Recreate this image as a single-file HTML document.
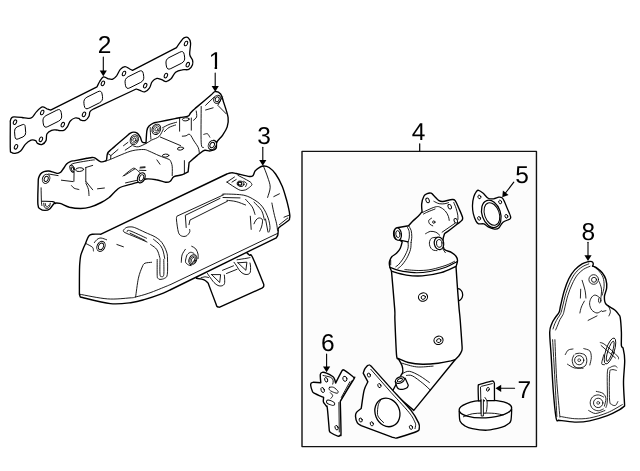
<!DOCTYPE html>
<html><head><meta charset="utf-8"><title>Exhaust manifold diagram</title>
<style>
html,body{margin:0;padding:0;background:#fff;}
body{width:640px;height:471px;overflow:hidden;font-family:"Liberation Sans",sans-serif;}
svg{display:block;filter:grayscale(1);}
svg path,svg ellipse,svg rect{stroke-linecap:round;stroke-linejoin:round;}
svg text{font-family:"Liberation Sans",sans-serif;fill:#000;stroke:none;text-rendering:geometricPrecision;}
</style></head><body>
<svg width="640" height="471" viewBox="0 0 640 471" fill="none" stroke="#000">
<rect x="302" y="151.4" width="234.45" height="295.2" stroke-width="1.4" fill="#fcfcfc" stroke="#111"/>
<path d="M419.7 143.8L419.7 151" stroke-width="1.2" fill="none"/>
<text x="215.6" y="68.7" font-size="24.5" text-anchor="middle">1</text>
<rect x="208" y="66.2" width="6.6" height="4" fill="#fff" stroke="none"/><rect x="217.1" y="66.2" width="6" height="4" fill="#fff" stroke="none"/>
<text x="104.5" y="53.4" font-size="24.5" text-anchor="middle">2</text>
<text x="264.1" y="144.4" font-size="24.5" text-anchor="middle">3</text>
<text x="418.6" y="140.3" font-size="24.5" text-anchor="middle">4</text>
<text x="522" y="182.6" font-size="24.5" text-anchor="middle">5</text>
<text x="327.9" y="350.6" font-size="24.5" text-anchor="middle">6</text>
<text x="524.2" y="397.6" font-size="24.5" text-anchor="middle">7</text>
<text x="588.3" y="240" font-size="24.5" text-anchor="middle">8</text>
<path d="M215.2 73.1L215.2 87" stroke-width="1.1"/>
<path d="M215.2 91.7L211.6 86L218.8 86Z" fill="#000" stroke="none"/>
<path d="M103.3 57.1L103.3 71.5" stroke-width="1.1"/>
<path d="M103.3 76.2L99.7 70.5L106.9 70.5Z" fill="#000" stroke="none"/>
<path d="M262.8 147.2L262.8 161" stroke-width="1.1"/>
<path d="M262.8 165.7L259.2 160L266.4 160Z" fill="#000" stroke="none"/>
<path d="M513.8 182.2L505.1 193.5" stroke-width="1.1"/>
<path d="M502.3 197.2L502.9 190.5L508.6 194.9Z" fill="#000" stroke="none"/>
<path d="M326.6 354.1L326.6 367.6" stroke-width="1.1"/>
<path d="M326.6 372.3L323 366.6L330.2 366.6Z" fill="#000" stroke="none"/>
<path d="M514.6 388.3L500.2 388.3" stroke-width="1.1"/>
<path d="M495.5 388.3L501.2 384.7L501.2 391.9Z" fill="#000" stroke="none"/>
<path d="M588 242.3L588 256.2" stroke-width="1.1"/>
<path d="M588 260.9L584.4 255.2L591.6 255.2Z" fill="#000" stroke="none"/>
<path d="M50.6 110.2L97 86.8C97.5 85.9 98.6 83.2 99.7 81.5C100.8 79.8 102 77.4 103.4 76.9C104.8 76.4 106.5 78.4 108.1 78.8C109.7 79.1 111.4 79.6 112.8 79.1C114.2 78.6 115.3 77.5 116.6 75.9C117.8 74.3 118.9 71 120.3 69.4C121.7 67.9 123.4 66.7 125 66.6C126.6 66.5 128.4 68.4 129.7 69C130.9 69.6 132 70.1 132.5 70.3L176.5 47.6C177.1 46.7 179.1 43.8 180.3 42.2C181.6 40.6 182.7 38.6 184 37.9C185.3 37.2 187.3 37 188.4 37.9C189.5 38.8 190.4 40.4 190.6 43.1C190.8 45.9 189.4 51.6 189.7 54.4C190 57.2 192 58.3 192.5 60C193 61.7 193.1 63.1 192.5 64.7C191.9 66.3 190.5 68.6 188.8 69.4C187 70.2 184.4 69.3 182.2 69.8C180 70.2 177.5 70.7 175.6 72.2C173.7 73.7 172.6 77.2 171 78.8C169.4 80.3 167.8 81.4 166.2 81.6C164.7 81.8 163.2 80.2 161.6 79.7C160 79.2 158.5 78.1 156.9 78.4C155.3 78.7 153.4 80 152.2 81.6C150.9 83.2 150.7 86.4 149.4 88.1C148.2 89.8 146.3 91.5 144.7 91.9C143.1 92.3 141.4 90.9 140 90.4C138.6 89.9 136.9 89.2 136.2 89L93.8 108.8C93.1 109.2 90.8 110.3 90 111.6C89.2 112.8 89.8 114.8 89 116.2C88.2 117.7 86.7 119.8 85.3 120.4C83.9 121 81.7 120.3 80.6 120C79.5 119.7 79.7 118.7 78.8 118.4C77.8 118.1 76.4 117.6 75 118C73.6 118.4 71.5 119.6 70.3 121C69 122.4 68.6 125 67.5 126.6C66.4 128.2 65.2 129.7 63.8 130.3C62.3 131 60.2 130.6 59 130.5C57.8 130.4 57.5 130 56.2 130C55 130 53.2 129.6 51.6 130.3C50 131 47.8 132.3 46.9 134C46 135.7 46.8 138.9 46 140.6C45.2 142.3 43.6 143.9 42.2 144.4C40.8 144.9 38.6 144 37.5 143.4C36.4 142.8 36.7 141.1 35.6 140.6C34.5 140.1 32.7 139.6 31 140.2C29.3 140.9 27 142.6 25.3 144.4C23.6 146.2 22.3 149.5 20.6 151C18.9 152.5 16.6 153.2 15 153.4C13.4 153.6 12.1 153 11.3 152.3C10.5 151.6 10.5 153.7 10.3 149C10.1 144.3 10.3 128.7 10.3 124C10.3 119.3 10.1 122 10.3 121C10.5 120 10.9 118.7 11.5 118C12.1 117.3 12.2 116.9 14 116.8C15.8 116.7 19.6 117.2 22 117.5C24.4 117.8 26.5 118.3 28.1 118.3C29.8 118.3 30.5 118.6 31.9 117.5C33.3 116.4 34.9 113.4 36.6 111.6C38.3 109.8 40.5 107.4 42.2 106.9C43.9 106.4 45.5 108.2 46.9 108.8C48.3 109.3 50 110 50.6 110.2Z" stroke-width="1.3" fill="#fff"/>
<path d="M43 121.7Q42.3 117.6 46 115.6L56.8 110.2Q60.5 108.2 61.2 112.4L61.6 115.1Q62.3 119.2 58.6 121.2L47.8 126.6Q44.1 128.6 43.4 124.4Z" stroke-width="1.0" fill="none"/>
<path d="M83.9 103.3Q83.2 99.2 86.9 97.2L97.7 91.8Q101.4 89.8 102.1 94L102.5 96.7Q103.2 100.8 99.5 102.8L88.7 108.2Q85 110.2 84.3 106Z" stroke-width="1.0" fill="none"/>
<path d="M125.1 82.9Q124.4 78.8 128.1 76.8L138.9 71.4Q142.6 69.4 143.3 73.6L143.7 76.3Q144.4 80.4 140.7 82.4L129.9 87.8Q126.2 89.8 125.5 85.6Z" stroke-width="1.0" fill="none"/>
<path d="M166 63.7Q165.3 59.5 169 57.6L179.8 52.2Q183.5 50.2 184.2 54.4L184.6 57.1Q185.3 61.2 181.6 63.2L170.8 68.6Q167.1 70.5 166.4 66.4Z" stroke-width="1.0" fill="none"/>
<path d="M14.5 131.4Q14.2 128.2 17.1 126.9L22.1 124.8Q25 123.5 25.2 126.7L25.7 132.4Q25.9 135.6 23 136.9L18.2 138.9Q15.3 140.2 15 137Z" stroke-width="1.0" fill="none"/>
<ellipse cx="15" cy="122.2" rx="1.5" ry="2.4" stroke-width="1.0" fill="#fff" transform="rotate(25 15 122.2)"/>
<ellipse cx="16" cy="146.8" rx="1.5" ry="2.4" stroke-width="1.0" fill="#fff" transform="rotate(25 16 146.8)"/>
<ellipse cx="42.2" cy="112.5" rx="1.5" ry="2.4" stroke-width="1.0" fill="#fff" transform="rotate(25 42.2 112.5)"/>
<ellipse cx="40.9" cy="139.3" rx="1.5" ry="2.4" stroke-width="1.0" fill="#fff" transform="rotate(25 40.9 139.3)"/>
<ellipse cx="62.8" cy="124.7" rx="1.5" ry="2.4" stroke-width="1.0" fill="#fff" transform="rotate(25 62.8 124.7)"/>
<ellipse cx="84" cy="114.4" rx="1.5" ry="2.4" stroke-width="1.0" fill="#fff" transform="rotate(25 84 114.4)"/>
<ellipse cx="102.9" cy="83.4" rx="1.5" ry="2.4" stroke-width="1.0" fill="#fff" transform="rotate(25 102.9 83.4)"/>
<ellipse cx="124" cy="73.5" rx="1.5" ry="2.4" stroke-width="1.0" fill="#fff" transform="rotate(25 124 73.5)"/>
<ellipse cx="145.2" cy="85.7" rx="1.5" ry="2.4" stroke-width="1.0" fill="#fff" transform="rotate(25 145.2 85.7)"/>
<ellipse cx="165.9" cy="75.6" rx="1.5" ry="2.4" stroke-width="1.0" fill="#fff" transform="rotate(25 165.9 75.6)"/>
<ellipse cx="186" cy="43.5" rx="1.5" ry="2.4" stroke-width="1.0" fill="#fff" transform="rotate(25 186 43.5)"/>
<ellipse cx="187.8" cy="64.7" rx="1.5" ry="2.4" stroke-width="1.0" fill="#fff" transform="rotate(25 187.8 64.7)"/>
<path d="M106.6 159.7C106.8 158.7 106.9 155.1 107.5 153.5C108.1 151.9 109.2 151.4 110.3 150.3C111.4 149.2 111.4 149.3 114 147.1C116.6 144.8 123.3 139.1 126 136.8C128.7 134.5 128.7 134.2 130 133.4C131.3 132.6 132.5 132.1 133.8 132.1C135 132.1 136.4 132.6 137.5 133.4C138.6 134.2 139.5 135.8 140.3 137.2C141.1 138.6 141.2 141 142.2 141.9C143.1 142.8 145.4 142.7 146 142.8C146.2 140.8 146.4 133.4 146.9 130.6C147.4 127.8 148 127.2 149.1 126C150.2 124.8 151.8 123.8 153.4 123.1C155.1 122.4 155.4 122.7 159 121.9C162.6 121.2 171.4 119.3 175 118.6C178.6 117.9 178.4 117.9 180.6 117.5C182.8 117.1 186.4 117 188.1 116.2C189.8 115.5 189.6 114 190.5 113C191.4 112 192.3 111 193.4 110C194.5 109 194.1 109.4 197 106.9C199.9 104.4 208 97.5 211 95C214 92.5 213.4 91.8 215 91.6C216.6 91.4 219.2 92.3 220.6 94C222 95.7 222.2 97.7 223.4 101.6C224.7 105.5 227.5 113.3 228.1 117.5C228.7 121.7 228.1 123.9 227.2 126.9C226.3 129.9 224.2 132.8 222.5 135.3C220.8 137.8 218 139.7 216.9 141.9C215.8 144.1 217.1 146.9 216 148.4C214.9 149.9 212.2 150.6 210.3 150.9C208.4 151.2 206.6 149.8 204.7 150.3C202.8 150.8 200.6 152.8 199 154C197.4 155.2 196.7 156 195 157.4C193.3 158.8 190.1 161.7 189.1 162.5L188.1 171.9C187.2 172.4 184.8 173.9 182.5 174.7C180.2 175.5 176 175.5 174 176.6C172 177.7 171.7 180.3 170.3 181.2C168.9 182.2 167.9 182.4 165.6 182.2C163.3 181.9 159.5 180.3 156.2 179.8C153 179.2 148.7 178.7 146 179C143.3 179.3 141.6 180.7 140 181.3C138.4 181.9 138.4 182 136.6 182.6C134.8 183.2 132.2 183.9 129.4 184.7C126.6 185.5 122.5 186.2 120 187.5C117.5 188.8 116.3 190.5 114.4 192.2C112.5 193.9 110.9 196.1 108.8 197.8C106.6 199.5 104.4 200.9 101.2 202.5C98.1 204.1 93.4 206.2 90 207.2C86.6 208.2 84 208.5 80.6 208.5C77.2 208.5 72.8 208 69.4 207.2C66 206.3 62.5 204 60 203.4C57.5 202.8 56.1 202.5 54.4 203.4C52.7 204.3 51.3 207.8 49.7 209C48.1 210.2 46.6 210.4 45 210.4C43.4 210.4 41.5 210 40.3 209C39.1 208 38.2 208.7 37.9 204.4C37.5 200.1 38.1 187.4 38.2 183C38.3 178.6 38.2 179.5 38.6 178C39 176.5 39.6 175.1 40.5 174C41.4 172.9 42.6 172.1 44 171.6C45.4 171.1 47.1 170.9 48.8 171C50.4 171.1 52.4 172 54 172.4C55.6 172.8 56.9 173.5 58.1 173.4C59.3 173.3 60.1 172.8 61 172C61.9 171.2 62.6 169.8 63.5 168.5C64.4 167.2 65.5 165.2 66.6 164C67.7 162.8 68.9 162.2 70.3 161.6C71.7 161 72.2 161.1 75 160.6C77.8 160.1 84.2 158.8 87 158.3C89.8 157.8 90.6 157.6 91.9 157.5C93.2 157.4 93.3 157.2 94.7 157.9C96.1 158.6 98.6 161 100.3 161.6C102 162.2 104 161.6 105 161.2C106 160.9 106.3 160 106.6 159.7Z" stroke-width="1.4" fill="#fff"/>
<path d="M41.1 187.8C41.1 190 41.3 198 41.4 201C41.5 204 41.8 204.8 41.9 205.6" stroke-width="0.9" fill="none"/>
<path d="M43.8 203.2C43.9 203.8 43.8 206 44.3 206.9C44.8 207.8 46.1 208.6 47 208.5C47.9 208.4 49.1 207.3 49.6 206.4C50.1 205.5 50.1 203.7 50.2 203.2" stroke-width="0.9" fill="none"/>
<path d="M45.4 203.6C45.5 204 45.6 205.6 45.9 206.2C46.2 206.8 46.9 207.1 47.4 206.9C47.9 206.7 48.6 205.3 48.9 205" stroke-width="0.9" fill="none"/>
<path d="M42.2 201.2C44 201.3 50.6 201.2 52.8 201.6C55 202 55 203.3 55.5 203.6" stroke-width="1.1" fill="none"/>
<ellipse cx="46.1" cy="178.8" rx="3.6" ry="4.7" stroke-width="0.9" fill="#fff" transform="rotate(25 46.1 178.8)"/>
<ellipse cx="46.2" cy="178.9" rx="1.9" ry="2.7" stroke-width="0.9" fill="#fff" transform="rotate(25 46.2 178.9)"/>
<path d="M48.6 174L58.1 175.6" stroke-width="0.9" fill="none"/>
<path d="M69.9 165.9C70.6 165.5 70.4 164.3 74.1 163.3C77.8 162.3 88.8 160.6 92.2 160.1C95.6 159.6 94 160.1 94.3 160.1" stroke-width="0.9" fill="none"/>
<ellipse cx="72.2" cy="168.7" rx="2.1" ry="3.9" stroke-width="0.9" fill="#fff" transform="rotate(-20 72.2 168.7)"/>
<ellipse cx="72.6" cy="169.2" rx="1.1" ry="2.6" stroke-width="0.9" fill="#fff" transform="rotate(-20 72.6 169.2)"/>
<path d="M74.1 170.5L73.9 181.3L85.8 181.3L85.8 168Z" stroke-width="0.01" fill="#fff" stroke="none"/>
<path d="M74.1 171.2L73.9 181.3" stroke-width="0.9" fill="none"/>
<path d="M85.8 167.5L85.8 181.3" stroke-width="0.9" fill="none"/>
<path d="M85.8 181.3L92.7 189.8" stroke-width="0.9" fill="none"/>
<path d="M85.8 183C86.2 184.1 87.9 187.2 88.4 189.3C88.9 191.4 88.9 194.6 89 195.6" stroke-width="0.9" fill="none"/>
<ellipse cx="79.6" cy="169.6" rx="4" ry="1.9" stroke-width="0.9" fill="#fff" transform="rotate(-5 79.6 169.6)"/>
<path d="M85.8 167.5L92.7 165.4" stroke-width="0.9" fill="none"/>
<path d="M61.4 180.2L73 181.6" stroke-width="0.9" fill="none"/>
<path d="M71.5 185.6C71.9 186 72.9 187.5 74.1 188.2C75.3 188.8 78.1 189.3 78.9 189.5" stroke-width="0.9" fill="none"/>
<path d="M97.5 188.8L104.4 188" stroke-width="0.9" fill="none"/>
<path d="M123 176.1C124.4 175 129.5 170.6 131.5 169.3C133.5 168 133.5 167.9 134.9 168.5C136.3 169.1 139.2 172 140 172.7" stroke-width="0.9" fill="none"/>
<path d="M140 168L145 167.6" stroke-width="0.9" fill="none"/>
<path d="M139.5 170.3L145.9 170.5" stroke-width="0.9" fill="none"/>
<path d="M125.5 182.9L136.6 180.4" stroke-width="0.9" fill="none"/>
<ellipse cx="141.3" cy="177.8" rx="3.5" ry="5.3" stroke-width="1.2" fill="#fff" transform="rotate(25 141.3 177.8)"/>
<ellipse cx="141.5" cy="177.8" rx="2" ry="3.3" stroke-width="0.9" fill="#fff" transform="rotate(25 141.5 177.8)"/>
<ellipse cx="134.3" cy="139.7" rx="3.9" ry="5.1" stroke-width="0.9" fill="#fff" transform="rotate(25 134.3 139.7)"/>
<ellipse cx="134.3" cy="139.7" rx="2.8" ry="3.7" stroke-width="0.7" fill="#fff" transform="rotate(25 134.3 139.7)"/>
<ellipse cx="134.4" cy="139.7" rx="1.4" ry="1.9" stroke-width="0.7" fill="#fff" transform="rotate(25 134.4 139.7)"/>
<ellipse cx="156.3" cy="129.3" rx="4.2" ry="5.4" stroke-width="0.9" fill="#fff" transform="rotate(25 156.3 129.3)"/>
<ellipse cx="156.3" cy="129.3" rx="2.9" ry="3.8" stroke-width="0.7" fill="#fff" transform="rotate(25 156.3 129.3)"/>
<ellipse cx="156.4" cy="129.3" rx="1.4" ry="1.9" stroke-width="0.7" fill="#fff" transform="rotate(25 156.4 129.3)"/>
<path d="M107.7 153.4L110.9 155.6L110.6 158.8" stroke-width="0.9" fill="none"/>
<path d="M110.9 155.6L118 149.5" stroke-width="0.9" fill="none"/>
<path d="M123.5 145.7L127.9 142.4" stroke-width="0.9" fill="none"/>
<path d="M125.2 150.1L131.7 145.7" stroke-width="0.9" fill="none"/>
<path d="M106 161C106.7 160.7 107.8 160.5 110.4 159.4C113.1 158.3 118.2 156 121.9 154.5C125.6 153 129.2 151.4 132.8 150.6C136.5 149.8 141.1 149.4 143.8 149.5C146.5 149.6 146.7 150.2 149.2 151.2C151.7 152.2 155.9 154.3 159 155.6C162.1 156.9 166.1 158.2 168 159C169.9 159.8 169.6 159.4 170.3 160.6C171 161.8 171.9 163.8 172.2 166.2C172.5 168.8 172.2 174 172.2 175.6" stroke-width="0.9" fill="none"/>
<path d="M132.8 145.7C133.7 145.9 136.1 147.2 138.3 146.8C140.5 146.4 143.8 144.6 146 143.5C148.2 142.4 149.2 141.4 151.4 140.2C153.6 139 157.1 138.3 159.1 136.4C161.1 134.5 162.8 130 163.5 128.8" stroke-width="0.9" fill="none"/>
<path d="M150.3 127.5C150.3 128.1 150.2 129 150.3 130.9C150.4 132.8 150.8 137.7 150.9 139.1" stroke-width="0.9" fill="none"/>
<path d="M160.2 137L180.6 145.6" stroke-width="0.9" fill="none"/>
<path d="M162.5 127.8C163.6 127.2 166.7 125.4 169 124.5C171.3 123.6 175.3 122.6 176.6 122.2" stroke-width="0.9" fill="none"/>
<path d="M164.4 131.6C165.2 130.9 167.1 128.6 169 127.5C170.9 126.4 174.5 125.4 175.6 125" stroke-width="0.9" fill="none"/>
<ellipse cx="165.6" cy="155.6" rx="3.3" ry="1.5" stroke-width="0.9" fill="#fff" transform="rotate(-5 165.6 155.6)"/>
<ellipse cx="180.5" cy="148.6" rx="3.1" ry="1.5" stroke-width="0.9" fill="#fff" transform="rotate(-8 180.5 148.6)"/>
<path d="M156.9 159.9L160 164.3" stroke-width="0.9" fill="none"/>
<path d="M179.6 118.4L179.6 131.2" stroke-width="0.9" fill="none"/>
<path d="M191.3 118L191.3 130.2" stroke-width="0.9" fill="none"/>
<ellipse cx="185.8" cy="119.3" rx="3.4" ry="1.6" stroke-width="0.9" fill="#fff" transform="rotate(-5 185.8 119.3)"/>
<path d="M182.3 136.2C182.9 136.2 184.8 136.1 186 135.8C187.2 135.5 188.5 133.5 189.8 134.4C191.1 135.3 192.6 138.8 194 141C195.4 143.2 197.4 145.6 198.3 147.7C199.2 149.8 199.2 152.5 199.4 153.5" stroke-width="0.9" fill="none"/>
<path d="M184.4 160.6L184.4 173.8" stroke-width="0.9" fill="none"/>
<path d="M201.2 106.5C201.2 112.5 200.8 136 201.2 142.8C201.6 149.6 203.3 146.7 203.8 147.5" stroke-width="0.9" fill="none"/>
<path d="M196.2 111C196.3 112 197.1 115.5 196.6 117C196.1 118.5 193.9 119.8 193.4 120.3" stroke-width="0.9" fill="none"/>
<ellipse cx="217.2" cy="99.3" rx="3.4" ry="4.2" stroke-width="0.9" fill="#fff" transform="rotate(25 217.2 99.3)"/>
<ellipse cx="217.2" cy="99.3" rx="1.9" ry="2.5" stroke-width="0.9" fill="#fff" transform="rotate(25 217.2 99.3)"/>
<path d="M205.6 105.3L214 97.2" stroke-width="0.9" fill="none"/>
<path d="M205.6 110L213.1 107.8" stroke-width="0.9" fill="none"/>
<path d="M222.5 96.9L217.8 105.3L226.2 113.8" stroke-width="0.9" fill="none"/>
<ellipse cx="212.2" cy="145" rx="3.7" ry="4.9" stroke-width="0.9" fill="#fff" transform="rotate(30 212.2 145)"/>
<ellipse cx="212.2" cy="145" rx="2.1" ry="2.9" stroke-width="0.9" fill="#fff" transform="rotate(30 212.2 145)"/>
<path d="M203.8 134.4C204.4 134.3 206.5 133.3 207.5 133.8C208.5 134.3 209.4 136.6 209.8 137.2" stroke-width="0.9" fill="none"/>
<path d="M214 140L216.9 141.9" stroke-width="0.9" fill="none"/>
<path d="M124.4 175.6C125.3 175 128.3 173.1 130 172C131.7 170.9 133.9 169.5 134.7 169" stroke-width="0.9" fill="none"/>
<path d="M140.3 167.2L145 166.8" stroke-width="0.9" fill="none"/>
<path d="M197 274L196.5 278.4C197.8 278.6 202.2 279 204.1 279.8C206 280.6 207.4 282.5 208.1 283C209.4 286.5 214.5 300.1 216 304C217.5 307.9 216.7 306.1 217.3 306.6C217.9 307.1 219.3 307.1 219.7 307.2L261.9 288.1C262.2 287.9 263.3 287.2 263.6 286.6C263.9 286 263.7 284.8 263.8 284.4C261.9 279.9 254.9 262.1 252.5 257.2C250.1 252.3 250.8 256.2 249.5 255.2C248.2 254.2 245.8 251.7 245 251L197 274Z" stroke-width="1.4" fill="#fff"/>
<path d="M211.6 274.6L220.6 274.6L219.7 282.5L211.6 274.6Z" stroke-width="0.9" fill="none"/>
<path d="M237.9 262.8L246.9 262.2L245.9 270.3L237.9 262.8Z" stroke-width="0.9" fill="none"/>
<path d="M207.5 273.5C207.8 274 208.4 275 209.5 276.5C210.6 278 212.6 281 214 282.5C215.4 284 216.7 284.9 218 285.5C219.3 286.1 220.9 286.1 222 285.8C223.1 285.5 224.1 284.8 224.5 283.5C224.9 282.2 224.6 279.4 224.6 278C224.6 276.6 224.4 275.5 224.3 275" stroke-width="0.9" fill="none"/>
<path d="M234 262.3C234.3 262.8 235 263.6 236 265C237 266.4 238.7 269.5 240 271C241.3 272.5 242.7 273.4 244 274C245.3 274.6 246.9 274.6 248 274.3C249.1 274 249.9 273.4 250.3 272C250.7 270.6 250.6 267.5 250.5 266C250.4 264.5 250.1 263.5 250 263" stroke-width="0.9" fill="none"/>
<path d="M222.5 270.3L233.5 265.8" stroke-width="0.9" fill="none"/>
<path d="M226.5 273.5L237 269.3" stroke-width="0.9" fill="none"/>
<path d="M201 277.8C201.7 277.6 203.8 276.9 205 276.8C206.2 276.8 207.9 277.4 208.5 277.5" stroke-width="0.9" fill="none"/>
<path d="M237 259.8C238.7 259.5 244.8 258.6 247 258.2C249.2 257.8 249.5 257.6 250 257.5" stroke-width="0.9" fill="none"/>
<path d="M101 234.2L226.9 174C227.7 173.8 230 172.8 231.6 172.8C233.2 172.7 233.3 172.9 236.2 173.5C239.2 174.1 246.6 176.2 249.4 176.5C252.2 176.8 252.2 176.3 253.1 175.4C254 174.5 254.1 172.5 255 171.2C255.9 170 257.4 168.8 258.8 167.9C260.1 167 261.7 166.1 263.4 166C265.1 165.9 267.1 166.2 269.1 167.5C271.1 168.8 273.4 170.9 275.6 174C277.8 177.1 280.3 181.7 282.2 186.2C284.1 190.8 285.6 196.6 286.9 201.2C288.1 205.9 289.3 211.4 289.7 214.3C290.1 217.2 289.7 217.4 289.5 218.5C289.3 219.6 290.2 219.1 288.5 220.6C286.8 222.1 280.7 225.9 279 227.6C277.3 229.3 278.4 229.8 278.2 231C278 232.2 278.1 233.9 277.8 235C277.5 236.1 276.6 237.3 276.3 237.8L170 290C168.3 290.7 164.2 292.7 160 294.3C155.8 295.9 149.7 298 145 299.4C140.3 300.8 137.7 301.8 131.9 302.5C126.1 303.2 118.9 304.5 110.3 303.6C101.7 302.7 85.3 298.1 80.3 297L79.4 294.2C79.4 290.2 79.4 275.2 79.5 270C79.6 264.8 79.6 265.6 79.8 263.2C80 260.8 80.2 258 80.7 255.6C81.2 253.2 82.3 251 83.1 248.9C83.9 246.8 84.8 245.2 85.7 243C86.6 240.8 87.6 237.5 88.8 236C89.9 234.5 90.5 234.5 92.5 234.2C94.5 233.9 99.6 234.2 101 234.2Z" stroke-width="1.4" fill="#fff"/>
<path d="M79.6 294.2C84.2 295 99.1 298.3 107.5 298.9C115.9 299.5 125.3 298.2 130 297.9C134.7 297.6 132.5 297.8 135.6 297C138.7 296.2 143.4 295.1 148.8 293.2C154.1 291.4 164 287.2 167.5 285.8C171 284.3 169.6 285 170 284.8L275 234.6L277.5 233.5" stroke-width="0.9" fill="none"/>
<path d="M135.6 297C136.1 293.9 137.3 283.2 138.4 278.2C139.5 273.2 141.1 269.5 142.2 267C143.3 264.5 143.4 264 145 263.2C146.6 262.5 150.5 262.5 151.6 262.3" stroke-width="0.9" fill="none"/>
<path d="M86 243.6C87.1 244.2 91.3 246.1 92.5 247.3C93.7 248.5 93.2 250.4 93.4 251" stroke-width="0.9" fill="none"/>
<ellipse cx="101" cy="246.4" rx="3.9" ry="5.3" stroke-width="0.9" fill="#fff" transform="rotate(25 101 246.4)"/>
<ellipse cx="101" cy="246.4" rx="2.4" ry="3.5" stroke-width="0.9" fill="#fff" transform="rotate(25 101 246.4)"/>
<path d="M94.4 242.6C94.8 242.1 95.9 240.3 97 239.5C98.1 238.7 99.4 237.9 101 238C102.6 238.1 105.7 239.5 106.6 239.8" stroke-width="0.9" fill="none"/>
<path d="M116.9 244.5L123.4 246.8" stroke-width="0.9" fill="none"/>
<path d="M157.2 259.5C157.2 262.1 157.1 272.3 157.2 275.4C157.3 278.5 157.5 277.6 158 278.3C158.5 279 158.9 279.4 160 279.4C161.1 279.4 163.5 279.1 164.7 278.2C165.9 277.4 166.8 277.7 167.3 274.5C167.8 271.3 167.6 262.8 167.5 259C167.4 255.2 167.5 254.7 166.6 252C165.7 249.3 163.8 245.1 161.9 242.6C160 240.1 158.1 238.7 155.3 237C152.5 235.3 148.4 233.9 145 232.3C141.6 230.7 137.2 228.5 134.7 227.6C132.2 226.7 131.4 226.9 130 226.9C128.6 226.9 127.3 227 126.2 227.6C125.2 228.2 123.6 229.6 123.4 230.4C123.2 231.2 123.1 231.5 125 232.6C126.9 233.7 131.3 235.2 135 236.8C138.7 238.4 145 241.1 147 242" stroke-width="0.9" fill="none"/>
<path d="M160 259.5C160 262 159.7 271.6 160 274.5C160.3 277.4 161.3 276.6 161.9 276.6C162.5 276.6 163.4 277.4 163.8 274.5C164.1 271.6 163.8 262 163.8 259.5" stroke-width="0.9" fill="none"/>
<path d="M150.6 244.5C151.4 245.1 154.2 246.8 155.5 248C156.8 249.2 157.3 250.2 158.1 252C158.8 253.8 159.7 257.4 160 258.5" stroke-width="0.9" fill="none"/>
<path d="M153.5 239.3C154.5 240.2 157.9 242.6 159.5 244.4C161.1 246.2 161.9 247.7 162.8 250C163.7 252.3 164.4 257.1 164.7 258.5" stroke-width="0.9" fill="none"/>
<path d="M127.3 232C127.7 231.8 126.3 229.6 129.5 230.6C132.7 231.6 143.7 236.9 146.5 238.2" stroke-width="0.9" fill="none"/>
<path d="M130 233.2L145 240.4" stroke-width="0.9" fill="none"/>
<path d="M193.9 253.4C193.3 253.2 191.7 252.1 190.6 252.3C189.5 252.5 188.1 253.6 187.3 254.5C186.6 255.4 186.4 256.5 186.1 257.8C185.8 259.1 185.2 261.1 185.6 262.3C186 263.5 187.5 264.3 188.4 264.9C189.3 265.4 190.6 265.5 191 265.6" stroke-width="0.9" fill="none"/>
<ellipse cx="192.8" cy="259.7" rx="3.7" ry="5.3" stroke-width="0.9" fill="#fff" transform="rotate(25 192.8 259.7)"/>
<ellipse cx="192.9" cy="259.8" rx="2.7" ry="4.1" stroke-width="0.75" fill="#fff" transform="rotate(25 192.9 259.8)"/>
<ellipse cx="193" cy="259.9" rx="1.5" ry="2.7" stroke-width="0.75" fill="#fff" transform="rotate(25 193 259.9)"/>
<path d="M185.4 249.3C184.8 250.2 182.8 252.7 182.1 254.9C181.4 257.1 181.4 261.1 181.3 262.3" stroke-width="0.9" fill="none"/>
<path d="M191.7 246.3C192.4 246.7 194.8 247.6 195.8 248.9C196.9 250.2 197.6 252.5 198 254.1C198.4 255.7 198 257.9 198 258.6" stroke-width="0.9" fill="none"/>
<path d="M223.8 194.7L176.9 216.2C176.8 216.9 176.2 217.3 176.5 220C176.8 222.7 177.6 229.5 178.4 232.2C179.2 234.9 180.3 235.4 181.6 236C182.9 236.6 184.9 236.6 186.2 236C187.6 235.4 189 233.3 189.6 232.2C190.2 231.1 189.6 229.9 189.6 229.4" stroke-width="0.9" fill="none"/>
<path d="M220 198.4L185.3 215.3L186.2 227.5" stroke-width="0.9" fill="none"/>
<path d="M227.5 201.2L190 220L189 224.7" stroke-width="0.9" fill="none"/>
<path d="M222.2 194.7C222.7 194.6 221.4 193.9 225 194C228.6 194.1 238.8 194.2 243.8 195.2C248.8 196.3 251.9 198.4 255 200.3C258.1 202.2 260.3 204 262.5 206.9C264.7 209.8 266.9 214.6 268.1 218C269.4 221.4 269.9 225.2 270 227.5C270.1 229.8 269.2 231.2 269 232" stroke-width="0.9" fill="none"/>
<path d="M223 197.5L240 197.9" stroke-width="0.9" fill="none"/>
<path d="M226.9 200.3C228.5 200.5 233.1 200.8 236.2 201.6C239.4 202.4 244 204.4 245.6 205" stroke-width="0.9" fill="none"/>
<path d="M245.6 199.4C246.7 200.7 250.6 204.4 252.2 206.9C253.8 209.4 254.5 213.2 255 214.4" stroke-width="0.9" fill="none"/>
<path d="M254 202.2C255.3 203.6 259.9 207.6 261.6 210.6C263.3 213.6 263.9 218.4 264.4 220" stroke-width="0.9" fill="none"/>
<path d="M250.3 216.2L251.2 229.4" stroke-width="0.9" fill="none"/>
<path d="M254 223.8C254.3 223.1 255.2 221 256 220C256.8 219 257.8 218.2 258.8 218C259.8 217.8 261.4 218.3 262 219C262.6 219.7 262.6 220.6 262.5 221.9C262.4 223.2 262 225.4 261.5 227C261 228.6 260 230.5 259.7 231.2" stroke-width="0.9" fill="none"/>
<path d="M265.5 219L268 232" stroke-width="0.9" fill="none"/>
<path d="M263.4 166C264.1 167.8 266.5 173.5 267.6 177C268.7 180.5 270.2 183.8 270.2 187.2C270.2 190.6 268 195.7 267.6 197.4" stroke-width="0.9" fill="none"/>
<path d="M273.8 196.6L279.4 193.8" stroke-width="0.9" fill="none"/>
<path d="M271.9 203C272.2 204.6 273 209 273.8 212.5C274.5 216 276 220.8 276.6 223.8C277.2 226.7 277.4 229.2 277.5 230.3" stroke-width="0.9" fill="none"/>
<path d="M284 217.2L288.8 215.3" stroke-width="0.9" fill="none"/>
<path d="M279.4 224.7L287.8 218" stroke-width="0.9" fill="none"/>
<path d="M237.9 175.3C239.8 176.3 246.7 179.8 249 181.2C251.3 182.6 251.1 182.8 251.5 183.5C251.9 184.2 252.2 184.6 251.5 185.5C250.8 186.4 248.6 188.1 247.3 188.9C246.1 189.7 245.4 190.1 244 190.2C242.6 190.3 241.7 191 238.8 189.7C236 188.3 228.9 183.4 226.9 182.1" stroke-width="0.9" fill="none"/>
<path d="M226.9 182.1L234.5 177" stroke-width="0.9" fill="none"/>
<path d="M232 182.1L236.2 179.5" stroke-width="0.9" fill="none"/>
<ellipse cx="240.5" cy="183.8" rx="3.5" ry="2.7" stroke-width="0.9" fill="#fff" transform="rotate(15 240.5 183.8)"/>
<ellipse cx="240" cy="183.6" rx="1.9" ry="1.5" stroke-width="1.2" fill="#fff" transform="rotate(15 240 183.6)"/>
<path d="M243.5 181.3C244 181.7 246.4 182.6 246.7 183.5C247 184.4 245.7 186.2 245.5 186.7" stroke-width="0.9" fill="none"/>
<path d="M398.1 358.5C398.8 359.7 401.2 363.4 402 365.6C402.8 367.8 402.9 370.3 402.8 371.9C402.7 373.5 401.5 374.5 401.2 375L392 392L413.8 410.4L455.5 359.3L398.1 358.5Z" stroke-width="1.4" fill="#fff"/>
<path d="M402.6 373.6C403.7 373.2 406.5 370.9 409.3 371.3C412.1 371.7 416.4 373.9 419.7 375.8C423 377.7 427.8 381.4 429.4 382.5" stroke-width="0.9" fill="none"/>
<path d="M406.5 375.5C407.5 375.6 409.6 374.5 412.3 375.8C415 377.1 419.7 380.9 422.7 383.2C425.7 385.5 428.9 388.8 430.1 389.9" stroke-width="0.9" fill="none"/>
<path d="M395.2 381.5C395.6 382.5 396.5 386.3 397.3 387.6C398.1 388.9 398.9 389 400 389.3C401.1 389.6 402.4 389.4 403.6 389.2C404.8 388.9 406.2 388.4 407 387.8C407.8 387.2 408.1 385.7 408.3 385.3L405.2 378.2L395.2 381.5Z" stroke-width="1.2" fill="#fff"/>
<ellipse cx="399.9" cy="380.1" rx="4.7" ry="3" stroke-width="1.2" fill="#fff" transform="rotate(-25 399.9 380.1)"/>
<ellipse cx="399.9" cy="380.1" rx="2.7" ry="1.4" stroke-width="0.9" fill="#fff" transform="rotate(-25 399.9 380.1)"/>
<path d="M363.2 373.2L367.9 381.8C367.3 383.2 365.2 385.9 364.1 390.4C363 394.8 361.7 405.5 361.2 408.5C360.5 409.1 357.5 411.1 356.5 412.4C355.5 413.7 355.4 414.4 355.5 416.2C355.6 417.9 356.4 421.3 357.4 422.9C358.4 424.5 360.6 425.2 361.2 425.7L392 437.2C392.5 437.3 393.9 437.8 395 437.9C396.1 437.9 394.9 438.6 398.5 437.5C402.1 436.4 413.2 433 416.7 431.5C420.1 430 418.9 430 419.2 428.6C419.5 427.2 420 425.9 418.6 422.9C417.2 419.9 415.3 415.8 411 410.4C406.7 405 395.8 393.7 392.8 390.4L371.8 366.9C371.3 366.6 370 364.6 368.9 364.9C367.8 365.1 366.1 367 365.1 368.4C364.2 369.8 363.5 372.4 363.2 373.2Z" stroke-width="1.4" fill="#fff"/>
<path d="M370.8 369.3L390.9 392.3C393.9 395.6 405 407.5 409 412.4C413 417.3 413.7 419.7 414.8 421.9C415.9 424.1 415.6 424.4 415.6 425.5C415.6 426.6 415.1 428.1 415 428.6" stroke-width="0.9" fill="none"/>
<ellipse cx="387.4" cy="412.4" rx="12.2" ry="14.6" stroke-width="1.3" fill="#fff" transform="rotate(-22 387.4 412.4)"/>
<path d="M380.5 400.5C380.1 401.2 378.8 402.5 378.3 404.8C377.8 407.1 377.2 411.9 377.5 414.3C377.8 416.7 379 417.6 380 419C381 420.4 383 421.9 383.6 422.5" stroke-width="0.9" fill="none"/>
<ellipse cx="368.9" cy="375.1" rx="1.5" ry="2.1" stroke-width="0.9" fill="#fff" transform="rotate(-20 368.9 375.1)"/>
<ellipse cx="379.4" cy="385.6" rx="1.5" ry="2.1" stroke-width="0.9" fill="#fff" transform="rotate(-20 379.4 385.6)"/>
<ellipse cx="360.7" cy="420" rx="1.5" ry="2.1" stroke-width="0.9" fill="#fff" transform="rotate(-20 360.7 420)"/>
<ellipse cx="371.8" cy="423.8" rx="1.5" ry="2.1" stroke-width="0.9" fill="#fff" transform="rotate(-20 371.8 423.8)"/>
<ellipse cx="411" cy="427.3" rx="1.5" ry="2.1" stroke-width="0.9" fill="#fff" transform="rotate(-20 411 427.3)"/>
<path d="M457.5 288.5C457.9 288.6 459.1 288.6 459.9 289.2C460.7 289.8 461.9 291.1 462.3 292.4C462.7 293.7 462.7 295.8 462.3 297.1C461.9 298.4 460.5 299.8 459.9 300.3C459.2 300.9 458.6 300.4 458.4 300.4" stroke-width="1.3" fill="#fff"/>
<path d="M391.5 271.2C392 277.5 394.1 300.8 394.7 308.9C395.3 317 394.6 312.4 394.9 320C395.2 327.6 396 348.2 396.5 354.6C397 361 397.8 357.9 398.1 358.5C399.8 359.2 404.2 361.5 408.3 362.5C412.4 363.5 417.5 364.2 422.5 364.3C427.5 364.4 433.5 363.8 438.2 363.2C442.9 362.6 447.9 361.5 450.8 360.9C453.7 360.2 454.7 359.6 455.5 359.3C456 358.8 457.6 357.6 458.6 356.2C459.7 354.8 461.2 352.3 461.8 350.7C462.4 349.1 462.1 347.4 462.1 346.7C461.8 342.2 460.7 326.3 460.2 320C459.7 313.7 459.6 314.1 459.1 308.9C458.7 303.6 458 295.6 457.5 288.5C457 281.4 456.2 270.1 456 266.4L391.5 271.2Z" stroke-width="1.4" fill="#fff"/>
<path d="M401.9 363.2C404.4 363.8 411.5 366.4 416.7 366.9C421.9 367.4 430.4 366.2 433.1 366.1" stroke-width="0.9" fill="none"/>
<ellipse cx="423" cy="297.1" rx="4.6" ry="4.1" stroke-width="1.1" fill="#fff" transform="rotate(-20 423 297.1)"/>
<ellipse cx="423.3" cy="297.4" rx="2.2" ry="1.9" stroke-width="0.9" fill="#fff" transform="rotate(-20 423.3 297.4)"/>
<ellipse cx="438.5" cy="340.3" rx="4.6" ry="4.1" stroke-width="1.1" fill="#fff" transform="rotate(-20 438.5 340.3)"/>
<ellipse cx="438.8" cy="340.6" rx="2.2" ry="1.9" stroke-width="0.9" fill="#fff" transform="rotate(-20 438.8 340.6)"/>
<path d="M391.5 271.2C391.2 270.5 390.3 268.5 389.9 267.2C389.5 265.9 389.3 264.4 389.3 263.3C389.3 262.2 389.4 261.6 389.8 260.5C390.2 259.4 390.9 257.7 392 256.5C393.1 255.3 395.1 254.7 396.5 253.3C397.9 251.9 399.4 250.1 400.3 248.2C401.2 246.3 401.9 242.9 402.2 241.8C401.7 241.5 400.1 240.3 399 239.9C397.9 239.5 396.6 239.8 395.7 239.2C394.8 238.5 394.2 237.4 393.9 236C393.6 234.6 393.6 232.3 394 231C394.4 229.7 395.5 228.7 396 228.2C396.5 227.7 396.9 227.9 397.1 227.8L408.6 225.8C409.2 225.1 410.8 223 412.4 221.4C414 219.8 416.6 217.9 418.2 216.3C419.8 214.7 421.5 212.5 422.1 211.7C422 210.4 421.4 206.5 421.7 203.9C422 201.3 423.1 197.7 424 196C424.9 194.3 426 194.1 427.2 193.6C428.4 193.1 429.9 192.8 431.1 193.2C432.3 193.6 432.9 194.8 434.2 196C435.5 197.2 437.6 199.8 439 200.7C440.4 201.6 440.7 201.7 442.9 201.5C445.1 201.3 450.2 199.6 452.3 199.5C454.4 199.4 454.1 199.3 455.2 200.7C456.2 202.1 457.4 205.1 458.6 207.8C459.8 210.6 462 215.1 462.5 217.2C463 219.3 462.7 219.2 461.8 220.4C460.9 221.6 459 222.7 457 224.3C455 225.9 452.1 228.2 450 229.8C447.9 231.4 445.4 233 444.5 233.7C444.2 234.8 443.1 237.4 443 240C442.9 242.6 442.8 247.1 444.2 249.2C445.6 251.2 449.3 251.1 451.3 252.3C453.3 253.5 455 254.9 456 256.2C457 257.5 457.4 258.9 457.5 260.2C457.6 261.5 457.1 263.1 456.8 264.1C456.6 265.1 456.1 266 456 266.4C453.5 267.4 446.6 271.1 441 272.7C435.4 274.3 428 275.5 422.2 275.9C416.4 276.3 411.5 275.9 406.4 275.1C401.3 274.3 394 271.9 391.5 271.2Z" stroke-width="1.4" fill="#fff"/>
<path d="M389.9 267.2C391.3 267.7 394.5 269.5 398.6 270.4C402.7 271.3 409.1 272.5 414.3 272.7C419.5 272.9 424.8 272.4 430 271.5C435.2 270.6 441.3 268.8 445.8 267.2C450.3 265.6 455 262.6 456.8 261.7" stroke-width="1.2" fill="none"/>
<path d="M404.9 269.6C407.4 269.8 415.5 270.6 420 270.5C424.5 270.4 427.7 270.2 432 269.3C436.3 268.4 442.2 266.6 446 265.3C449.8 264 453.1 262 454.5 261.3" stroke-width="0.9" fill="none"/>
<path d="M408 241.8C408 242.9 408.6 245.6 408 248.2C407.4 250.8 405.6 254.5 404.1 257.1C402.6 259.8 400.4 262.5 399 264.1C397.6 265.7 396.3 266.3 395.8 266.7" stroke-width="0.9" fill="none"/>
<path d="M411.1 242.4C411 243.6 411.2 246.7 410.5 249.4C409.8 252.1 408.2 255.7 406.7 258.4C405.2 261.1 403.1 263.7 401.6 265.4C400.1 267.1 398.4 268.1 397.8 268.6" stroke-width="0.9" fill="none"/>
<path d="M390.7 260.2L390.7 264.9" stroke-width="0.9" fill="none"/>
<path d="M408.6 225.8C409 226.6 410.6 228.5 411.1 230.3C411.6 232.1 411.8 234.7 411.8 236.7C411.8 238.7 411.2 241.4 411.1 242.4" stroke-width="0.9" fill="none"/>
<path d="M407.3 227.1C407.6 227.8 408.9 229.8 409.2 231.6C409.5 233.4 409.4 236.3 409.2 238C409 239.7 408.2 241.2 408 241.8" stroke-width="0.9" fill="none"/>
<path d="M399 239.9L408 241.8" stroke-width="1.2" fill="none"/>
<ellipse cx="397.8" cy="234.1" rx="3.6" ry="6.2" stroke-width="1.2" fill="#fff" transform="rotate(-8 397.8 234.1)"/>
<ellipse cx="397.9" cy="234.1" rx="2.1" ry="3.5" stroke-width="0.9" fill="#fff" transform="rotate(-8 397.9 234.1)"/>
<path d="M422.5 212.5C423.3 212.1 425.1 211.1 427.2 210.2C429.3 209.3 432.9 207.5 435 207C437.1 206.5 438 206.3 439.7 207C441.4 207.7 443.9 209.4 445.3 211C446.8 212.6 447.8 214.8 448.4 216.4C449 218 449.1 219.7 449.2 220.4" stroke-width="0.9" fill="none"/>
<path d="M423.5 214C424.2 213.6 426.1 212.6 428 211.8C429.9 211 433.8 209.5 435 209" stroke-width="0.9" fill="none"/>
<path d="M442.1 232.2L454.7 223.5" stroke-width="0.9" fill="none"/>
<ellipse cx="427.6" cy="200.4" rx="1.6" ry="2.4" stroke-width="0.9" fill="#fff" transform="rotate(-25 427.6 200.4)"/>
<ellipse cx="449.7" cy="206.7" rx="1.6" ry="2.4" stroke-width="0.9" fill="#fff" transform="rotate(-25 449.7 206.7)"/>
<ellipse cx="455.8" cy="220.8" rx="1.6" ry="2.4" stroke-width="0.9" fill="#fff" transform="rotate(-25 455.8 220.8)"/>
<path d="M431.6 218.2C431.1 218.6 429 219.6 428.7 220.6C428.4 221.6 429.1 223.2 429.8 224.1C430.5 225 432.3 225.5 432.8 225.8" stroke-width="0.9" fill="none"/>
<path d="M433.9 201.3C434.8 201.7 437.3 203.3 439.2 203.7C441.1 204.1 443.4 203.9 445 203.7C446.6 203.5 447.9 202.8 448.5 202.6" stroke-width="0.9" fill="none"/>
<path d="M453.8 202.5C454.1 203.5 455.4 206.2 456.1 208.3C456.8 210.4 457.5 213.4 457.8 215.3C458.1 217.2 457.9 218.8 457.9 219.5" stroke-width="0.9" fill="none"/>
<ellipse cx="433.8" cy="222.1" rx="1.2" ry="1.2" stroke-width="0.9" fill="#fff"/>
<path d="M425.6 233.7C426.4 233.3 428.6 231.7 430.3 231.4C432 231.2 434.2 231.5 435.8 232.2C437.4 232.8 439.1 234.8 439.7 235.3" stroke-width="0.9" fill="none"/>
<path d="M436 237.3C435.2 237.5 432.6 237.5 431.5 238.2C430.4 238.9 429.9 240.4 429.6 241.5C429.3 242.6 429.3 243.6 429.5 244.7C429.7 245.8 430.3 247.4 431 248.3C431.7 249.2 432.5 249.8 433.5 250.2C434.5 250.6 436.4 250.5 437 250.6" stroke-width="0.9" fill="none"/>
<ellipse cx="439" cy="243.4" rx="4.7" ry="6.3" stroke-width="1.2" fill="#fff" transform="rotate(-10 439 243.4)"/>
<ellipse cx="439.3" cy="243.4" rx="2.8" ry="3.9" stroke-width="0.9" fill="#fff" transform="rotate(-10 439.3 243.4)"/>
<path d="M442.9 249L445.3 252.6" stroke-width="0.9" fill="none"/>
<path d="M478.6 190.3C477.5 190 477.3 190.3 476.5 191.4C475.7 192.5 474.5 194.4 473.8 196.7C473.1 199 472.6 202.4 472.5 205.2C472.4 208 472.7 211 473.3 213.7C473.9 216.3 475.1 219.4 476 221.1C476.9 222.8 477.3 223.3 478.6 223.8C479.9 224.2 482.3 223.4 483.9 223.9C485.5 224.4 486.4 226 488.2 226.9C490 227.8 492.7 228.9 494.5 229.1C496.3 229.3 497.4 229.2 498.8 228C500.2 226.8 501.1 223.7 503 222.2C504.9 220.7 508.6 220 509.9 219C511.1 218 510.9 218.1 510.5 216.3C510.1 214.5 508.4 211 507.3 208.4C506.2 205.8 505 202.7 504.1 200.9C503.2 199.1 502.9 198.3 502 197.7C501.1 197.1 500.2 197 498.8 197.2C497.4 197.4 495.3 198.6 493.5 198.8C491.7 199 490 199.3 488.2 198.3C486.4 197.3 484.5 194.3 482.9 193C481.3 191.7 479.7 190.6 478.6 190.3Z" stroke-width="1.3" fill="#fff"/>
<ellipse cx="491.3" cy="213.9" rx="9.2" ry="14.1" stroke-width="1.3" fill="#fff" transform="rotate(-19 491.3 213.9)"/>
<ellipse cx="491.9" cy="214" rx="7.3" ry="11.7" stroke-width="1.0" fill="#fff" transform="rotate(-19 491.9 214)"/>
<ellipse cx="479.4" cy="196.9" rx="1.4" ry="1.9" stroke-width="0.9" fill="#fff" transform="rotate(-20 479.4 196.9)"/>
<ellipse cx="500.2" cy="202" rx="1.4" ry="1.9" stroke-width="0.9" fill="#fff" transform="rotate(-20 500.2 202)"/>
<ellipse cx="479.1" cy="218.4" rx="1.4" ry="1.9" stroke-width="0.9" fill="#fff" transform="rotate(-20 479.1 218.4)"/>
<ellipse cx="506.4" cy="216.3" rx="1.4" ry="1.9" stroke-width="0.9" fill="#fff" transform="rotate(-20 506.4 216.3)"/>
<path d="M320.8 382.7C320.7 381.4 320.1 376.3 320.3 374.6C320.5 372.9 321.2 372.6 322.2 372.4C323.2 372.1 324.8 372.4 326.5 373.1C328.2 373.8 331.3 375.5 332.7 376.5C334.1 377.5 334.1 378.2 334.6 379.3C335.1 380.4 335.4 382.5 335.6 383.1C336.6 381.1 340.6 373.4 341.8 371.2C343 369 342.5 370.4 342.9 370.2C343.3 370 342.5 369.2 344.2 370.2C345.9 371.3 351.2 375.2 352.8 376.5C354.4 377.8 353.7 377.3 353.8 377.8C353.9 378.3 355.9 375.4 353.7 379.3C351.4 383.2 342.5 397.6 340.3 401.3C340.4 406.5 341 426.9 341 432.5C341 438.1 340.8 434.4 340.3 435C339.8 435.6 339.4 436.5 337.8 436.1C336.2 435.7 331.9 433.4 330.5 432.5C329.1 431.6 329.5 430.8 329.3 430.5C329 426.8 327.8 412 327.3 408C326.8 404 326.8 406.9 326.5 406.4C326.2 405.9 326 405.8 325.5 405C325 404.2 323.7 403.1 323.4 401.8C323.1 400.6 323.6 398.2 323.6 397.5C322 396.8 316 394.3 314.1 393.2C312.2 392.1 312.8 392.1 312.2 390.8C311.6 389.5 310.9 386.8 310.7 385.5C310.5 384.2 310.7 383.7 311.2 383.1C311.7 382.6 313.2 382.4 313.6 382.2L320.8 382.7Z" stroke-width="1.4" fill="#fff"/>
<path d="M352.3 380.3L340.8 400.3" stroke-width="0.9" fill="none"/>
<path d="M349.9 381.7L341.3 397.5" stroke-width="0.9" fill="none"/>
<path d="M338.9 402.5L339.3 432" stroke-width="0.9" fill="none"/>
<path d="M323.1 375.5C324.4 375.8 329.1 376.5 330.8 377.4C332.5 378.3 332.9 379.7 333.2 380.8C333.5 381.9 332.8 383.6 332.7 384.1" stroke-width="0.9" fill="none"/>
<path d="M329.4 387.4C330.1 387 332.3 386.8 333.7 387.4C335.1 388 337.4 390.3 338 391.3C338.6 392.3 338 393.1 337 393.2C336 393.3 333.5 392.3 332.2 391.7C330.9 391.1 329.9 390.5 329.4 389.8C328.9 389.1 328.7 387.8 329.4 387.4Z" stroke-width="0.9" fill="none"/>
<path d="M330.3 392.7C330.7 393.2 332.6 394.7 332.7 395.6C332.8 396.6 331.1 397.9 330.8 398.4" stroke-width="0.9" fill="none"/>
<ellipse cx="326.2" cy="379.8" rx="1.4" ry="2.4" stroke-width="0.9" fill="#fff" transform="rotate(-20 326.2 379.8)"/>
<ellipse cx="344.9" cy="378.8" rx="2" ry="2.6" stroke-width="0.9" fill="#fff" transform="rotate(-20 344.9 378.8)"/>
<ellipse cx="322.7" cy="390" rx="1.6" ry="2.6" stroke-width="0.9" fill="#fff" transform="rotate(-20 322.7 390)"/>
<ellipse cx="336.6" cy="427.7" rx="1.5" ry="2.3" stroke-width="0.9" fill="#fff" transform="rotate(-20 336.6 427.7)"/>
<ellipse cx="330.6" cy="402.7" rx="4.4" ry="2" stroke-width="0.9" fill="#fff" transform="rotate(22 330.6 402.7)"/>
<path d="M459.2 411.5C459.4 413.1 459.1 418.9 460.1 421.3C461.1 423.7 463 424.8 465 426C467 427.2 468.6 428 472.3 428.7C476 429.4 482.2 430.4 487.1 430.2C492.1 429.9 498.5 428.2 502 427.2C505.5 426.2 506.5 425.1 508 424C509.5 422.9 510.3 422.9 510.9 420.5C511.5 418.1 511.6 411.2 511.7 409.3" stroke-width="1.3" fill="#fff"/>
<ellipse cx="485.4" cy="409" rx="26.3" ry="8.9" stroke-width="1.3" fill="#fff" transform="rotate(-2.5 485.4 409)"/>
<path d="M463.4 416.8C464.9 416.3 469.1 414.4 472.3 413.8C475.5 413.2 479 413.2 482.7 413.1C486.4 413 491.2 413.1 494.6 413.4C498 413.7 501.6 414.7 503 415" stroke-width="0.9" fill="none"/>
<path d="M480.5 384.1C482.4 383.6 489.4 381.5 491.6 381.1C493.8 380.7 493 381.2 493.5 381.6C494 382 494.2 383 494.4 383.3L494.5 400.5L478.5 400.9C478.4 398.5 478.1 389 478.2 386.3C478.3 383.6 478.5 385.3 478.9 384.9C479.3 384.5 480.2 384.2 480.5 384.1Z" stroke-width="1.3" fill="#fff"/>
<path d="M480.5 387.1L481.2 413.1" stroke-width="0.9" fill="none"/>
<path d="M481.5 386.3L492.3 383.6" stroke-width="0.9" fill="none"/>
<ellipse cx="487.9" cy="389.3" rx="1.3" ry="2" stroke-width="0.9" fill="#fff" transform="rotate(20 487.9 389.3)"/>
<path d="M481.2 399.7L481.2 416L483.4 416L483.4 399.7" stroke-width="0.9" fill="#fff"/>
<path d="M484.9 397.5C485.3 398.2 486.9 399.6 487.1 402C487.4 404.4 486.8 409.8 486.4 411.6C486 413.5 485.1 412.9 484.9 413.1" stroke-width="0.9" fill="#fff"/>
<path d="M558.4 420.2C561.1 420.5 569.5 422 574.7 422.1C579.9 422.2 584.2 422 589.6 420.9C595 419.8 602.5 417.5 607.4 415.7C612.3 413.9 616.4 411.4 619.3 409.8C622.1 408.2 623.6 406.7 624.5 406.1C624.5 405.6 624.7 407.1 624.5 403.1C624.3 399.1 623.5 389.4 623.5 382.3C623.5 375.2 624.8 366.1 624.7 360.5C624.7 354.9 623.8 351.1 623.2 348.6C622.7 346.1 621.7 348.4 621.4 345.7C621.1 343 621.6 337 621.4 332.3C621.2 327.6 620.7 320.4 620.2 317.4C619.7 314.4 619.4 315.6 618.5 314.4C617.6 313.2 616.9 311.7 614.8 310C612.7 308.3 607.6 306.2 605.9 304C604.2 301.8 604.3 299.3 604.4 296.6C604.5 293.9 606.5 290.6 606.7 287.7C607 284.8 606.6 282 605.9 279.5C605.1 277 603.8 274.8 602.2 272.8C600.6 270.8 597.9 268.7 596.3 267.6C594.7 266.5 593.1 266.4 592.5 266.1C592.6 265.7 593.4 264.6 593.3 263.9C593.2 263.2 592.7 262.1 591.8 261.7C590.9 261.3 589.7 261.3 588.1 261.7C586.5 262.1 584.3 262.5 582.1 263.9C579.9 265.3 576.9 267.4 574.7 269.9C572.5 272.4 570.5 275.3 568.8 278.8C567.1 282.3 565.7 286.2 564.3 290.7C562.9 295.1 561.5 301.9 560.6 305.5C559.7 309.1 560 310.2 559.1 312.2C558.2 314.2 556.6 315.5 555.4 317.4C554.2 319.3 552.8 320.9 551.9 323.4C551 325.9 549.8 327.1 549.7 332.3C549.6 337.5 550.5 345 551.1 354.6C551.7 364.2 552.4 379.1 553.2 389.7C554 400.3 555.2 412.9 556.1 418C557 423.1 558 419.8 558.4 420.2Z" stroke-width="1.4" fill="#fff"/>
<path d="M588.8 263.9C587.7 264.4 584.3 265.4 582.1 266.9C579.9 268.4 577.5 270.3 575.5 272.8C573.5 275.3 571.9 278.2 570.3 281.7C568.7 285.2 567.1 289.4 565.8 293.6C564.5 297.8 563.4 303.6 562.5 307C561.6 310.4 561.4 311.9 560.6 313.7C559.8 315.5 558.8 316.4 557.8 318C556.8 319.6 555.7 321.7 554.9 323.5C554.1 325.3 553.3 328.1 553 329" stroke-width="0.85" fill="none"/>
<path d="M590 266.3C588.9 266.8 585.6 267.9 583.5 269.3C581.4 270.8 579.2 272.6 577.3 275C575.4 277.4 573.8 280.6 572.2 284C570.6 287.4 569.1 291.3 567.8 295.5C566.5 299.7 565.3 305.8 564.5 309C563.7 312.2 563.8 312.8 563 314.5C562.2 316.2 560.9 317.8 560 319.5C559.1 321.2 558.5 323.1 557.8 324.9C557.1 326.6 556 329.1 555.6 330" stroke-width="0.85" fill="none"/>
<path d="M552.6 339.7C553 346.4 554.2 367 554.9 379.8C555.6 392.6 556.6 410.4 556.9 416.5" stroke-width="0.85" fill="none"/>
<path d="M554.9 339.7C555.2 346.1 555.8 365.5 556.6 378.4C557.4 391.3 559.4 410.7 559.9 417.2" stroke-width="0.85" fill="none"/>
<path d="M560.6 416.5C563 416.9 569.9 418.4 574.7 418.7C579.5 418.9 584.2 419 589.6 418C595 417 602 414.9 607.4 412.7C612.8 410.5 619.8 406 622.3 404.6" stroke-width="0.85" fill="none"/>
<path d="M593.3 266.1C594.2 266.9 596.9 268.7 598.5 270.6C600.1 272.5 602.1 274.7 603 277.3C603.9 279.9 604.2 283.2 604.1 286.2C604 289.2 602.5 293.6 602.2 295.1" stroke-width="0.85" fill="none"/>
<ellipse cx="593.7" cy="279.5" rx="4.8" ry="4.8" stroke-width="0.85" fill="#fff"/>
<ellipse cx="594" cy="279.8" rx="2.5" ry="2.5" stroke-width="0.85" fill="#fff"/>
<path d="M599.2 281.7C599.6 282.9 601.2 286.2 601.5 289.2C601.8 292.2 600.8 297.9 600.7 299.6" stroke-width="0.85" fill="none"/>
<path d="M582.1 280.3C582.6 282 584.5 287.7 585.1 290.7C585.7 293.7 585.8 296.9 585.9 298.1" stroke-width="0.85" fill="none"/>
<path d="M580.7 289.2L580.4 298.1" stroke-width="0.85" fill="none"/>
<path d="M584.4 301.1C583.9 302.1 582.1 305 581.4 307C580.6 309 580.1 312 579.9 313" stroke-width="0.85" fill="none"/>
<path d="M601.5 310.7C600.8 311.1 598.6 313.1 597 313C595.4 312.9 593 311.5 591.8 310C590.6 308.5 589.7 306 589.6 304C589.5 302 590.2 299.6 591.1 298.1C592 296.6 593.4 295.2 594.8 295.1C596.1 295 598.2 296.3 599.2 297.4C600.2 298.5 600.5 301.1 600.7 301.8" stroke-width="0.85" fill="none"/>
<ellipse cx="599.7" cy="300.3" rx="1.2" ry="2.6" stroke-width="0.85" fill="#fff"/>
<path d="M602.2 311.5L605.9 310.7" stroke-width="0.85" fill="none"/>
<path d="M608.2 305.5C608.6 306.5 610.3 309.8 610.4 311.5C610.5 313.2 609.1 315.2 608.9 315.9" stroke-width="0.85" fill="none"/>
<path d="M588.1 320.4L597 315.9" stroke-width="0.85" fill="none"/>
<path d="M574 355C573.7 355.8 572.2 358.2 572.2 360C572.2 361.8 572.9 364.7 574 366C575.1 367.3 577.2 367.9 579 367.9C580.8 367.9 583.7 367.2 585 366C586.3 364.8 586.8 362.3 586.8 360.5C586.8 358.7 586.2 356.2 585 355C583.8 353.8 581 353.4 579.4 353.2C577.8 353 576.1 353.9 575.5 354" stroke-width="0.85" fill="none"/>
<ellipse cx="579.2" cy="360.2" rx="4.6" ry="4.6" stroke-width="0.85" fill="none"/>
<ellipse cx="579.2" cy="360.2" rx="1.4" ry="1.4" stroke-width="0.7" fill="none"/>
<path d="M565.3 354.6C565.8 353.9 566.9 351 568.2 350.1C569.5 349.2 572.2 349.2 573 349" stroke-width="0.85" fill="none"/>
<path d="M583.8 348.6C584.8 349 588.5 349.4 589.8 350.9C591 352.4 591.3 355.1 591.3 357.5C591.3 359.9 590 363.8 589.8 365" stroke-width="0.85" fill="none"/>
<path d="M567.5 364.2C568.6 364.8 571.6 367.2 574.2 367.9C576.8 368.6 581.6 368.1 583.1 368.2" stroke-width="0.85" fill="none"/>
<ellipse cx="610" cy="351" rx="4.2" ry="13.6" stroke-width="0.85" fill="none" transform="rotate(18 610 351)"/>
<ellipse cx="610.2" cy="351.3" rx="2.3" ry="10.6" stroke-width="0.85" fill="none" transform="rotate(18 610.2 351.3)"/>
<path d="M600.2 342.6C601 342.9 602 342.4 604.9 344.6C607.8 346.8 615.2 353.6 617.4 356C619.6 358.4 618.1 358.4 618.3 358.9" stroke-width="0.85" fill="none"/>
<path d="M601.1 345.5L615.4 357.9" stroke-width="0.85" fill="none"/>
<path d="M603.9 354.6C603.5 356.1 601.6 361.8 601.7 363.5C601.8 365.2 604 364.4 604.5 364.6" stroke-width="0.85" fill="none"/>
<path d="M617.1 367.4C616.7 367.1 615.9 365.9 614.8 365.9C613.7 365.9 611.6 366.4 610.4 367.4C609.2 368.4 607.9 366.4 607.4 371.9C606.9 377.3 607.6 394.2 607.4 400.1C607.1 406 606.1 406.3 605.9 407.5" stroke-width="0.85" fill="none"/>
<path d="M616.3 370.4C615.6 370.3 613 369.2 611.9 369.7C610.8 370.2 610 368.3 609.6 373.4C609.2 378.5 609.2 394.9 609.6 400.1C610 405.3 610.9 403.7 611.9 404.6C612.9 405.5 614.6 405.8 615.6 405.3C616.6 404.8 617.4 402.2 617.8 401.6" stroke-width="0.85" fill="none"/>
<path d="M603.5 397C602.6 396.6 600 394.9 598.2 394.9C596.4 394.9 593.8 395.7 592.5 397C591.2 398.3 590.2 400.9 590.2 402.8C590.2 404.7 591.2 407.2 592.5 408.5C593.8 409.8 596.4 410.7 598.2 410.8C600 410.9 602.4 409.3 603.3 409" stroke-width="0.85" fill="none"/>
<ellipse cx="598.2" cy="402.9" rx="4.7" ry="4.7" stroke-width="0.85" fill="none"/>
<ellipse cx="598.2" cy="402.9" rx="1.4" ry="1.4" stroke-width="0.7" fill="none"/>
<path d="M596.3 391.4C597.4 391.7 601.4 392.2 603 393.4C604.6 394.6 605.7 396.5 605.9 398.6C606.1 400.7 604.6 404.9 604.4 406.1" stroke-width="0.85" fill="none"/>
<path d="M588.7 410.5C589.8 411 592.8 413.5 595.5 413.5C598.2 413.5 603.3 411 604.9 410.5" stroke-width="0.85" fill="none"/>
</svg>
</body></html>
